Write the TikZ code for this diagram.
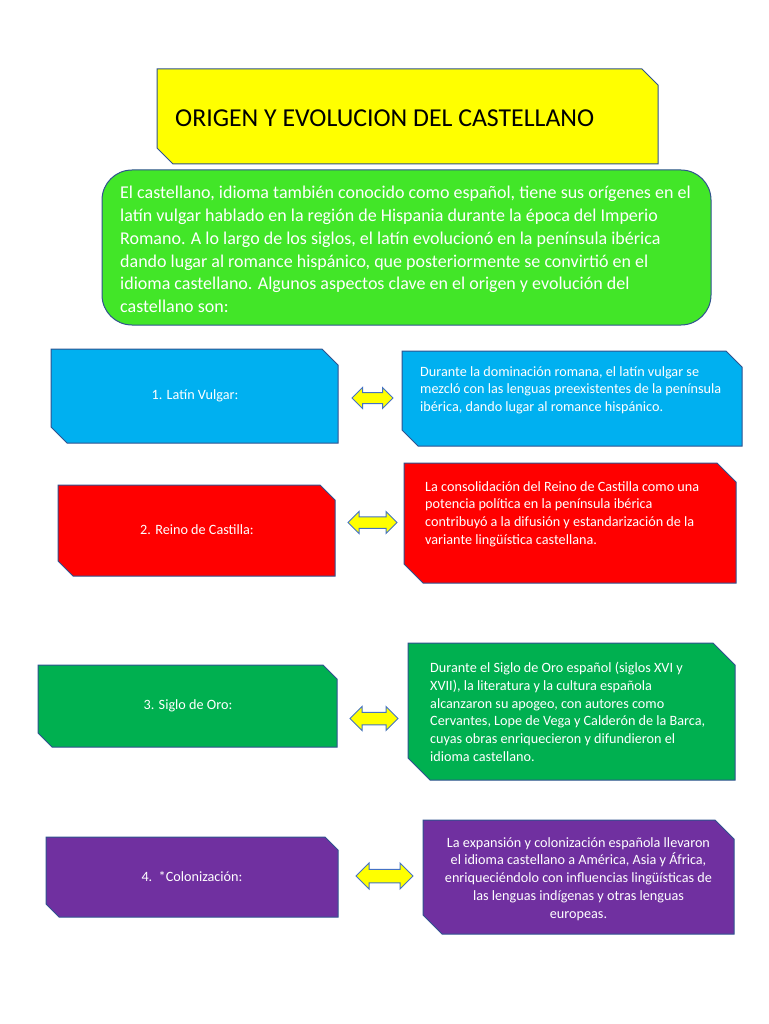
\documentclass[tikz,border=0pt]{standalone}
\usepackage{fontspec}
\setmainfont{Carlito}
\usetikzlibrary{shapes.arrows}
\definecolor{edge}{HTML}{2F528F}
\definecolor{ttl}{HTML}{FFFF00}
\definecolor{limegr}{HTML}{42E628}
\definecolor{cblue}{HTML}{00B0F0}
\definecolor{cred}{HTML}{FF0000}
\definecolor{cgreen}{HTML}{00B050}
\definecolor{cpurple}{HTML}{7030A0}
\definecolor{arrowedge}{HTML}{4472C4}
\newcommand\snipshape[6]{%
  \filldraw[boxline, fill=#6] (#1,#2) -- ({#3-#5},#2) -- (#3,{#2+#5}) -- (#3,#4) -- ({#1+#5},#4) -- (#1,{#4-#5}) -- cycle;}
\tikzset{
  boxline/.style={draw=edge, line width=1pt, line join=miter},
  titletext/.style={font=\fontsize{25.8}{30}\selectfont, text=black, inner sep=0pt, anchor=west},
  introtext/.style={font=\fontsize{18}{22.8}\selectfont, text=white, inner sep=0pt, align=left, anchor=north west},
  smalltext/.style={font=\fontsize{14.2}{17.8}\selectfont, text=white, inner sep=0pt, align=left, anchor=north west},
  labeltext/.style={font=\fontsize{14.2}{17.8}\selectfont, text=white, inner sep=0pt},
  dblarrow/.style={double arrow, draw=arrowedge, fill=ttl, line width=1pt, inner xsep=0pt,
    double arrow tip angle=90},
}
\begin{document}
\begin{tikzpicture}[x=1pt,y=-1pt]
\useasboundingbox (0,0) rectangle (768,1024);
% title
\snipshape{157}{69}{658}{164}{16}{ttl}
\node[titletext] (title) at (175,118) {ORIGEN Y EVOLUCION DEL CASTELLANO};
% intro
\draw[boxline, fill=limegr, rounded corners=30pt] (102,170) rectangle (711,325);
\node[introtext] (intro) at (120,186) {El castellano, idioma también conocido como español, tiene sus orígenes en el\\
latín vulgar hablado en la región de Hispania durante la época del Imperio\\
Romano. A lo largo de los siglos, el latín evolucionó en la península ibérica\\
dando lugar al romance hispánico, que posteriormente se convirtió en el\\
idioma castellano. Algunos aspectos clave en el origen y evolución del\\
castellano son:};
% row 1
\snipshape{51}{349}{338}{443}{16}{cblue}
\node[labeltext] (l1) at (195,396) {1. Latín Vulgar:};
\snipshape{402}{351}{742}{446}{16}{cblue}
\node[smalltext] (r1) at (420,366) {Durante la dominación romana, el latín vulgar se\\
mezcló con las lenguas preexistentes de la península\\
ibérica, dando lugar al romance hispánico.};
\node[dblarrow, minimum height=41pt, inner ysep=5pt, double arrow head extend=5pt] (a1) at (372.5,398) {};
% row 2
\snipshape{58}{485}{335}{576}{15}{cred}
\node[labeltext] (l2) at (197,530) {2. Reino de Castilla:};
\snipshape{404}{463}{736}{583}{19}{cred}
\node[smalltext] (r2) at (425,481) {La consolidación del Reino de Castilla como una\\
potencia política en la península ibérica\\
contribuyó a la difusión y estandarización de la\\
variante lingüística castellana.};
\node[dblarrow, minimum height=49pt, inner ysep=5.25pt, double arrow head extend=5.25pt] (a2) at (372.5,522.5) {};
% row 3
\snipshape{38}{665}{337}{747}{14}{cgreen}
\node[labeltext] (l3) at (188,706) {3. Siglo de Oro:};
\snipshape{408}{643}{735}{780}{22}{cgreen}
\node[smalltext] (r3) at (430,662) {Durante el Siglo de Oro español (siglos XVI y\\
XVII), la literatura y la cultura española\\
alcanzaron su apogeo, con autores como\\
Cervantes, Lope de Vega y Calderón de la Barca,\\
cuyas obras enriquecieron y difundieron el\\
idioma castellano.};
\node[dblarrow, minimum height=48pt, inner ysep=5.75pt, double arrow head extend=5.75pt] (a3) at (374,718.5) {};
% row 4
\snipshape{46}{837}{338}{917}{13}{cpurple}
\node[labeltext] (l4) at (192,877) {4.\ \ *Colonización:};
\snipshape{423}{820}{734}{934}{19}{cpurple}
\node[smalltext, align=center, anchor=north] (r4) at (578.5,837) {La expansión y colonización española llevaron\\
el idioma castellano a América, Asia y África,\\
enriqueciéndolo con influencias lingüísticas de\\
las lenguas indígenas y otras lenguas\\
europeas.};
\node[dblarrow, minimum height=57pt, inner ysep=6.25pt, double arrow head extend=6.25pt] (a4) at (384.5,876) {};
\end{tikzpicture}
\end{document}
